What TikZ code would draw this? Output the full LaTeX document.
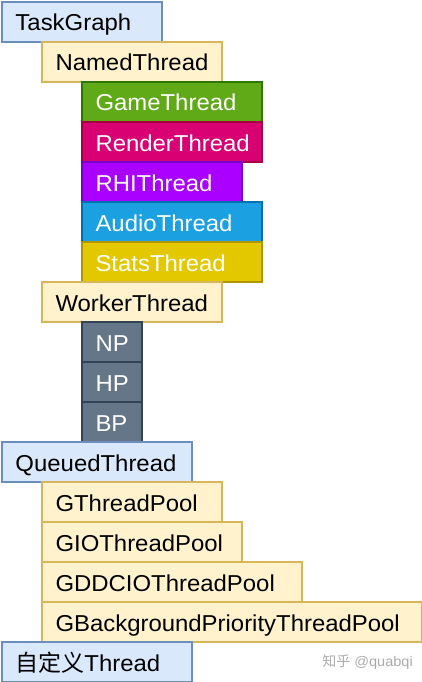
\documentclass[tikz,border=0pt]{standalone}
\usepackage{fontspec}
\setmainfont[FakeStretch=1.04]{Liberation Sans}
\newfontfamily\cjk{Noto Sans CJK SC}
\definecolor{bluefill}{HTML}{DAE8FC}\definecolor{bluestroke}{HTML}{6C8EBF}
\definecolor{yelfill}{HTML}{FFF2CC}\definecolor{yelstroke}{HTML}{D6B656}
\definecolor{greenfill}{HTML}{60A917}\definecolor{greenstroke}{HTML}{2D7600}
\definecolor{pinkfill}{HTML}{D80073}\definecolor{pinkstroke}{HTML}{A50040}
\definecolor{purpfill}{HTML}{AA00FF}\definecolor{purpstroke}{HTML}{7700CC}
\definecolor{azfill}{HTML}{1BA1E2}\definecolor{azstroke}{HTML}{006EAF}
\definecolor{goldfill}{HTML}{E3C800}\definecolor{goldstroke}{HTML}{B09500}
\definecolor{grayfill}{HTML}{647687}\definecolor{graystroke}{HTML}{314354}
\definecolor{wmark}{HTML}{ABABAB}
\begin{document}
\begin{tikzpicture}[x=1pt,y=-1pt,
  box/.style={draw, line width=2pt, anchor=north west, minimum height=40pt,
    inner xsep=13.5pt, inner ysep=0pt, text height=20pt, text depth=2pt,
    font=\fontsize{23}{26}\selectfont, align=left},
  w/.style={minimum width=#1pt, text width=#1pt-27pt},
  bluebox/.style={box, fill=bluefill, draw=bluestroke, text=black},
  yelbox/.style={box, fill=yelfill, draw=yelstroke, text=black},
  colbox/.style={box, fill=#1fill, draw=#1stroke, text=white}]
\useasboundingbox (-1,-1) rectangle (421,681);
\node[bluebox, w=160] (tg) at (0,0) {TaskGraph};
\node[yelbox, w=180] (named) at (40,40) {NamedThread};
\node[colbox=green, w=180] (game) at (80,80) {GameThread};
\node[colbox=pink, w=180] (render) at (80,120) {RenderThread};
\node[colbox=purp, w=160] (rhi) at (80,160) {RHIThread};
\node[colbox=az, w=180] (audio) at (80,200) {AudioThread};
\node[colbox=gold, w=180] (stats) at (80,240) {StatsThread};
\node[yelbox, w=180] (worker) at (40,280) {WorkerThread};
\node[colbox=gray, w=60] (np) at (80,320) {NP};
\node[colbox=gray, w=60] (hp) at (80,360) {HP};
\node[colbox=gray, w=60] (bp) at (80,400) {BP};
\node[bluebox, w=190] (queued) at (0,440) {QueuedThread};
\node[yelbox, w=180] (gtp) at (40,480) {GThreadPool};
\node[yelbox, w=200] (gio) at (40,520) {GIOThreadPool};
\node[yelbox, w=260] (gddc) at (40,560) {GDDCIOThreadPool};
\node[yelbox, w=380] (gbg) at (40,600) {GBackgroundPriorityThreadPool};
\node[bluebox, w=190] (custom) at (0,640) {{\cjk 自定义}Thread};
\node[anchor=base east, text=wmark, inner sep=0pt, font=\fontsize{14}{16}\selectfont] (wm) at (412,665) {{\cjk 知乎} @quabqi};
\end{tikzpicture}
\end{document}
